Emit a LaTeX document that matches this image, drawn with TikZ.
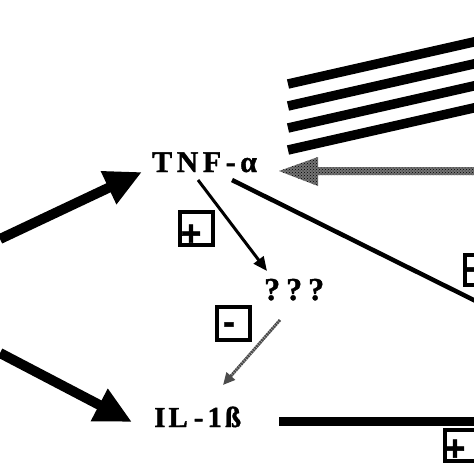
\documentclass[tikz,border=0pt]{standalone}
\usepackage{fontspec}
\setmainfont{Liberation Serif}[BoldFeatures={FakeBold=1.2}]
\newfontfamily\signfont{Liberation Sans}[BoldFeatures={FakeBold=1.5}]
\usetikzlibrary{arrows.meta,patterns}

\begin{document}
\begin{tikzpicture}[x=1pt,y=-1pt,every node/.style={inner sep=0pt},
	cytokine/.style={font=\bfseries\fontsize{30}{32}\selectfont},
	signbox/.style={draw,line width=4pt,minimum size=33pt,font=\signfont\bfseries\fontsize{35}{35}\selectfont},
	heavy/.style={line width=10pt,-{Triangle[length=37pt,width=34pt]}},
	thin/.style={line width=3pt,-{Triangle[length=14pt,width=12pt]}},
	hatched/.style={pattern=crosshatch dots,preaction={fill=black!55}}]
	\clip (0,0) rectangle (474,474);
	% cytokines
	\node[cytokine,anchor=base west] (tnf) at (152,172) {T\kern4.5pt N\kern4.5pt F\kern4.5pt -\kern4.5pt α};
	\node[cytokine,anchor=base west,font=\bfseries\fontsize{29}{31}\selectfont] (il) at (154,427) {I\kern3pt L\kern6pt -\kern4pt 1\kern3pt ß};
	\node[cytokine,anchor=base west,font=\bfseries\fontsize{32}{34}\selectfont] (qqq) at (264,300) {?\kern6pt ?\kern6pt ?};
	% signs
	\node[signbox] (plusA) at (196,228.5) {\raisebox{-6.5pt}[\height][\depth]{+}\kern10pt};
	\node[signbox] (minusA) at (233.5,323) {\raisebox{-5pt}[\height][\depth]{-}\kern9pt};
	\node[signbox,minimum size=30pt] (minusB) at (481.5,270) {\raisebox{-3pt}[\height][\depth]{-}\kern21pt};
	\node[signbox,minimum size=31pt] (plusB) at (460.5,445.5) {\raisebox{-4.5pt}[\height][\depth]{+}\kern11pt};
	% free ends
	\coordinate (inTop) at (0,239);
	\coordinate (inBot) at (0,353);
	\coordinate (tnfOut) at (520,323);
	\coordinate (ilOut) at (480,421);
	\coordinate (tnfIn) at ([xshift=127pt,yshift=1pt]tnf.base west);
	% stripes
	\foreach \k in {0,...,3}
		\draw[line width=9.5pt] (288,84+22*\k) -- (500,36+22*\k);
	% connectors
	\draw[heavy] (inTop) -- ([xshift=-10pt]tnf.base west);
	\draw[heavy] (inBot) -- ([xshift=-22pt,yshift=5pt]il.base west);
	\draw[thin] ([xshift=46pt,yshift=-8pt]tnf.base west) -- ([xshift=3pt,yshift=29pt]qqq.base west);
	\draw[line width=4.5pt] ([xshift=80pt,yshift=-8pt]tnf.base west) -- (tnfOut);
	\draw[thin,black!70,dash pattern=on 2pt off 0.6pt,-{Triangle[length=12pt,width=11pt]}] ([xshift=16pt,yshift=-20pt]qqq.base west) -- ([xshift=69pt,yshift=42pt]il.base west);
	\draw[line width=9pt] ([xshift=125pt,yshift=6pt]il.base west) -- (ilOut);
	\path[hatched,shift={(tnfIn)}] (0,0) -- (39,-14) -- (39,-4) -- (200,-4) -- (200,4) -- (39,4) -- (39,15) -- cycle;
\end{tikzpicture}
\end{document}
